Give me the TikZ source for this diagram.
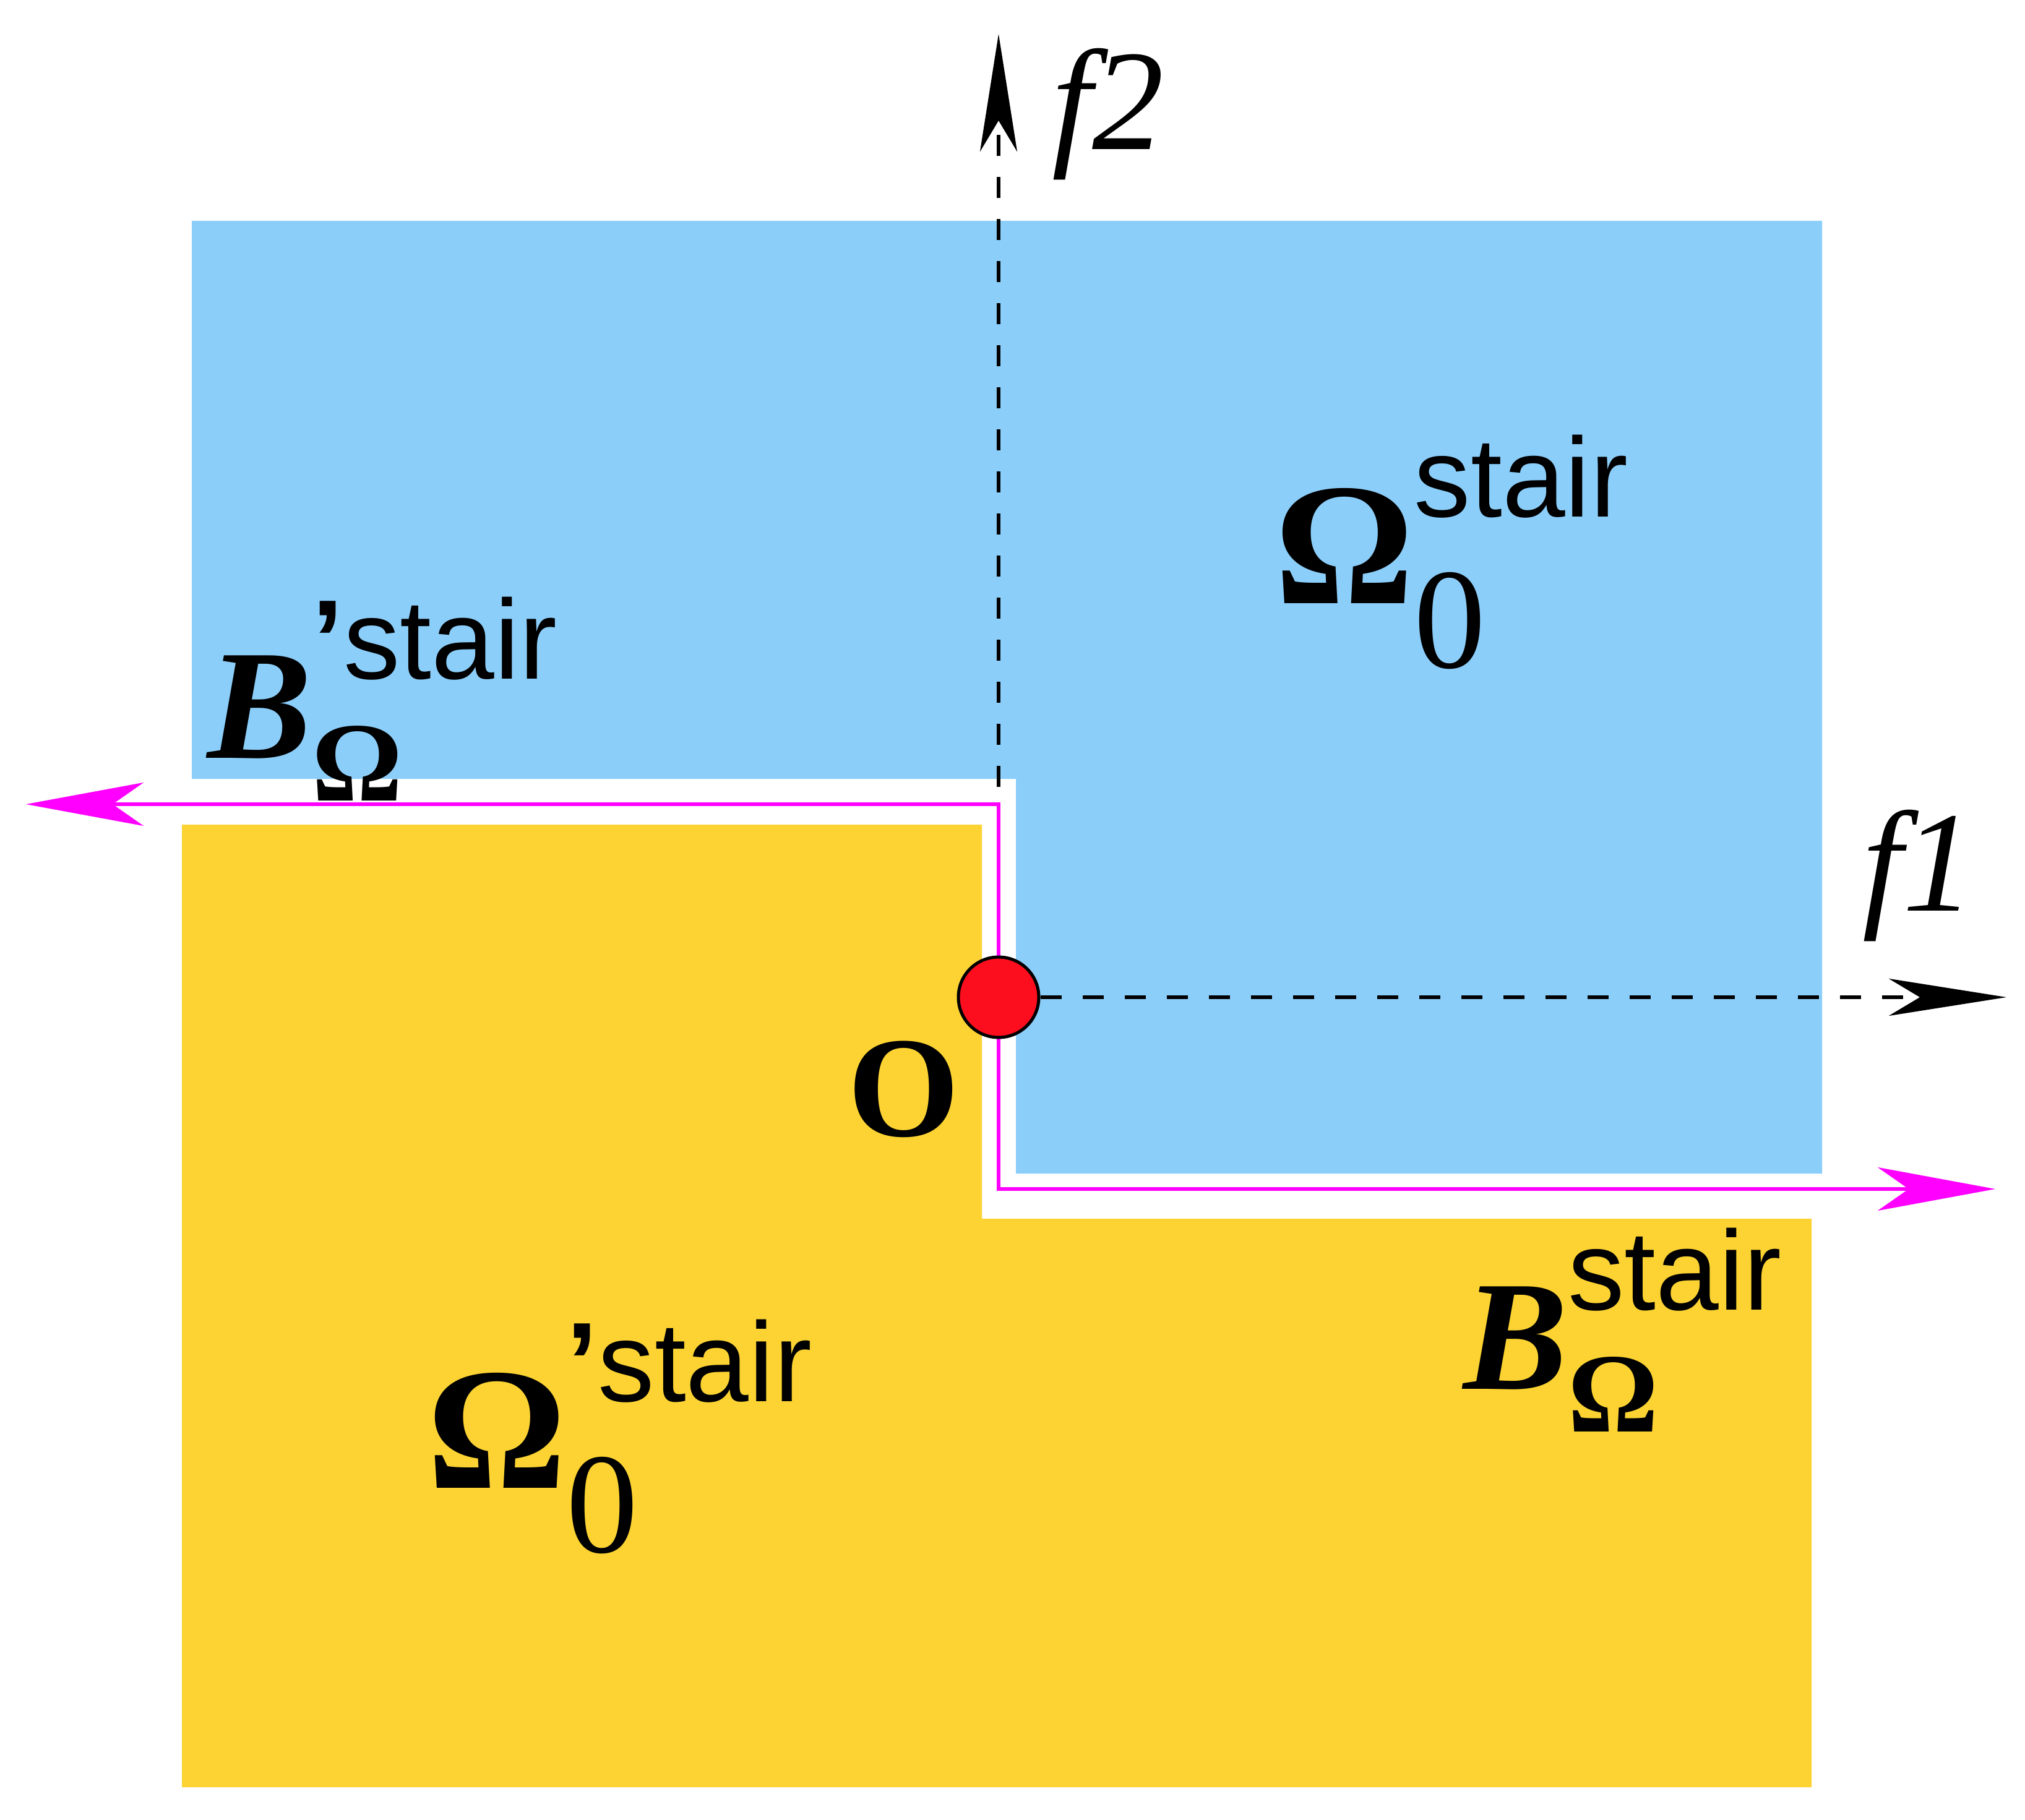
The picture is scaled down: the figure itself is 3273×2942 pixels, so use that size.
\documentclass[tikz,border=0pt]{standalone}
\usepackage{fontspec}
\setmainfont{Liberation Serif}
\newfontfamily\supfont{Liberation Sans}
\usetikzlibrary{arrows.meta}
\definecolor{skyb}{RGB}{140,206,250}
\definecolor{gold}{RGB}{252,211,50}
\definecolor{mag}{RGB}{255,0,255}
\definecolor{dotred}{RGB}{252,14,30}
\tikzset{
  axis/.style={black,line width=0.6mm,dash pattern=on 3.4mm off 3.4mm,-{Stealth[length=19mm,width=6mm,inset=5mm]}},
  boundary/.style={mag,line width=0.6mm,{Stealth[length=19mm,width=7mm,inset=5mm]}-{Stealth[length=19mm,width=7mm,inset=5mm]}},
  lbl/.style={inner sep=0pt,font=\fontsize{66}{70}\selectfont}
}
\newcommand{\supsz}{\fontsize{52}{52}\selectfont}
\begin{document}
\begin{tikzpicture}[x=0.1mm,y=-0.1mm]
\useasboundingbox (0,0) rectangle (3273,2942);
\fill[skyb] (310,357) -- (2945,357) -- (2945,1897) -- (1642,1897) -- (1642,1259) -- (310,1259) -- cycle;
\fill[gold] (294,1333) -- (1587,1333) -- (1587,1970) -- (2928,1970) -- (2928,2889) -- (294,2889) -- cycle;
\coordinate (O) at (1614,1612);
\coordinate (f2end) at (1614,55);
\coordinate (f1end) at (3243,1612);
\coordinate (bl) at (42,1300);
\coordinate (corner1) at (1614,1300);
\coordinate (corner2) at (1614,1922);
\coordinate (br) at (3225,1922);
\draw[axis] (O) -- (f2end);
\draw[axis] (O) -- (f1end);
\draw[boundary] (bl) -- (corner1) -- (corner2) -- (br);
\node[circle,fill=dotred,draw=black,line width=0.5mm,minimum size=13mm,inner sep=0pt] (dot) at (O) {};
\node[lbl] (olab) at (1461,1761) {\bfseries O};
\node[lbl,anchor=west] (f2) at (1700,185) {\itshape f2};
\node[lbl,anchor=west] (f1) at (3010,1416) {\itshape f1};
\node[lbl,anchor=base west] (om1) at (2060,975) {{\fontsize{80}{80}\selectfont\bfseries Ω}\rlap{\raisebox{-0.45em}{0}}\raisebox{0.6em}{\supfont\supsz stair}};
\node[lbl,anchor=base west] (om2) at (690,2405) {{\fontsize{80}{80}\selectfont\bfseries Ω}\rlap{\raisebox{-0.45em}{0}}\raisebox{0.6em}{\supfont\supsz\bfseries’\mdseries stair}};
\node[lbl,anchor=base west] (b1) at (335,1225) {{\fontsize{72}{72}\selectfont\bfseries\itshape B}\rlap{\raisebox{-0.3em}{\bfseries\fontsize{52}{52}\selectfont Ω}}\raisebox{0.55em}{\supfont\supsz\bfseries’\mdseries stair}};
\node[lbl,anchor=base west] (b2) at (2365,2245) {{\fontsize{72}{72}\selectfont\bfseries\itshape B}\rlap{\raisebox{-0.3em}{\bfseries\fontsize{52}{52}\selectfont Ω}}\raisebox{0.55em}{\supfont\supsz stair}};
\end{tikzpicture}
\end{document}
